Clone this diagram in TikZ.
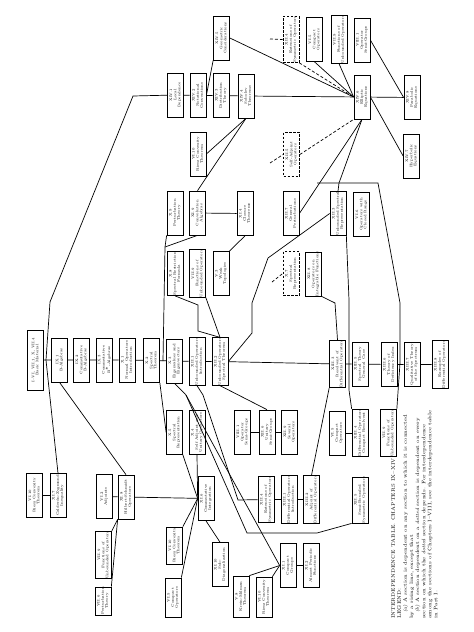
\documentclass[tikz,border=0pt]{standalone}
\usepackage{graphicx}
\usetikzlibrary{positioning}
\newcommand{\sectxt}[1]{\rotatebox{90}{\begin{tabular}{@{}c@{}}#1\end{tabular}}}

\begin{document}
\begin{tikzpicture}[
        x=1pt, y=-1pt,
        sec/.style={rectangle, draw=black, line width=0.7pt, minimum width=16pt,
                    minimum height=44pt, inner sep=0pt, font=\fontsize{3.6}{4.1}\selectfont},
        dsec/.style={sec, dash pattern=on 2.5pt off 1.5pt},
        link/.style={line width=0.7pt},
        dlink/.style={link, dash pattern=on 3pt off 2pt}
    ]
    \useasboundingbox (0,0) rectangle (474,632);

    % chapter XIV row
    \node[sec] (xiv5) at (221.5,38) {\sectxt{XIV.5\\Geometric\\Considerations}};
    \node[dsec] (xii4d) at (291,39.5) {\sectxt{XII.4\\Extensions of\\Symmetric Operators}};
    \node[sec] (vi5a) at (314.5,39.5) {\sectxt{VI.5\\Compact\\Operators}};
    \node[sec] (vii9a) at (339,39.5) {\sectxt{VII.9\\Functions of\\Unbounded Operators}};
    \node[sec] (viii1a) at (362,40) {\sectxt{VIII.1\\Operator\\Semi-Groups}};
    \node[sec] (xiv1) at (175.5,95) {\sectxt{XIV.1\\Local\\Dependence}};
    \node[sec] (xiv2) at (198,95.5) {\sectxt{XIV.2\\Notational\\Conventions}};
    \node[sec] (xiv3) at (221,95.5) {\sectxt{XIV.3\\Distribution\\Theory}};
    \node[sec] (xiv4) at (246,96) {\sectxt{XIV.4\\Sobolev\\Theorems}};
    \node[sec] (xiv6) at (362,97) {\sectxt{XIV.6\\Elliptic\\Equations}};
    \node[sec] (xiv8) at (412,97.5) {\sectxt{XIV.8\\Parabolic\\Equations}};
    \node[sec] (xiv7) at (411.5,156) {\sectxt{XIV.7\\Hyperbolic\\Equations}};
    \node[sec] (vi10a) at (198,154) {\sectxt{VI.10\\Riesz Convexity\\Theorem}};
    \node[dsec] (xiid1) at (291.5,154.5) {\sectxt{XII.5\\Self-Adjoint\\Operators}};

    % middle rows
    \node[sec] (x9) at (175,213) {\sectxt{X.9\\Perturbation\\Theory}};
    \node[sec] (xi9) at (197.5,213) {\sectxt{XI.9\\Convolution\\Algebras}};
    \node[sec] (xi4) at (245,213.5) {\sectxt{XI.4\\Closure\\Theorems}};
    \node[sec] (pert) at (291,213.5) {\sectxt{XII.7\\General\\Perturbations}};
    \node[sec] (usr) at (338,213.5) {\sectxt{XII.3\\Unbounded Spectral\\Representation}};
    \node[sec] (vi6) at (361.5,214.5) {\sectxt{VI.6\\Operators with\\Closed Range}};
    \node[sec] (x8) at (175,273.5) {\sectxt{X.8\\Spectral Restriction\\Formula}};
    \node[sec] (vii9b) at (197.5,273.5) {\sectxt{VII.9\\Functions of\\Unbounded Operators}};
    \node[sec] (v3) at (221,273.5) {\sectxt{V.3\\Weak\\Topologies}};
    \node[dsec] (x7d) at (291,273.5) {\sectxt{X.7\\Spectral\\Representation}};
    \node[sec] (oif) at (313.5,274) {\sectxt{XII.8\\Operators on\\Integrable Functions}};

    % main row
    \node[sec, minimum height=60pt] (basic) at (35.5,360) {\sectxt{I--VI, VII.1, X, VII.4\\Basic Material}};
    \node[sec] (ix1) at (59.5,360) {\sectxt{IX.1\\B-Algebras}};
    \node[sec] (ix2) at (81.5,360) {\sectxt{IX.2\\Commutative\\B-Algebras}};
    \node[sec] (ix3) at (104.5,360) {\sectxt{IX.3\\Commutative\\B$^*$-Algebras}};
    \node[sec] (x1) at (127,360) {\sectxt{X.1\\Normal Operators\\Introduction}};
    \node[sec] (x2) at (151.5,360.5) {\sectxt{X.2\\Spectral\\Theorem}};
    \node[sec] (x3) at (174.5,361) {\sectxt{X.3\\Eigenvalues and\\Eigenvectors}};
    \node[sec] (xii1) at (197,361.5) {\sectxt{XII.1\\Unbounded Operators\\Introduction}};
    \node[sec] (xii2) at (220,361.5) {\sectxt{XII.2\\Unbounded Operators\\Spectral Theorem}};
    \node[sec] (xiii3) at (337.5,364) {\sectxt{XIII.3\\Resolvent of\\Differential Operators}};
    \node[sec] (xiii5) at (360,364) {\sectxt{XIII.5\\Spectral Theory\\General Case}};
    \node[sec] (xiii6) at (389,364.5) {\sectxt{XIII.6\\Theory of\\Deficiency Index}};
    \node[sec] (xiii7) at (412,364.5) {\sectxt{XIII.7\\Qualitative Theory\\of the Spectrum}};
    \node[sec] (xiii8) at (440,364.5) {\sectxt{XIII.8\\Examples of\\Differential Operators}};

    % lower rows
    \node[sec] (x5) at (174.5,432.5) {\sectxt{X.5\\Spectral\\Representation}};
    \node[sec] (x4) at (197,432.5) {\sectxt{X.4\\Self Adjoint and\\Unitary Operators}};
    \node[sec] (viii1b) at (242.5,432) {\sectxt{VIII.1\\Operator\\Semi-Groups}};
    \node[sec] (usg) at (267,432) {\sectxt{XII.6\\Unitary\\Semi-Groups}};
    \node[sec] (xii9) at (289.5,432) {\sectxt{XII.9\\Several\\Operators}};
    \node[sec] (vi5b) at (337,433) {\sectxt{VI.5\\Compact\\Operators}};
    \node[sec] (xiii4) at (360,433) {\sectxt{XIII.4\\Differential Operators\\Compact Resolvent}};
    \node[sec] (vii9c) at (388.5,433) {\sectxt{VII.9\\Functions of\\Unbounded Operators}};
    \node[sec] (vi10b) at (34.5,495.5) {\sectxt{VI.10\\Riesz Convexity\\Theorem}};
    \node[sec] (xi7) at (58,495.5) {\sectxt{XI.7\\Calder\'on-Zygmund\\Inequality}};
    \node[sec] (vi2) at (104,496.5) {\sectxt{VI.2\\Adjoints}};
    \node[sec] (xi8) at (126,497) {\sectxt{XI.8\\Hilbert-Schmidt\\Operators}};
    \node[sec] (xi6) at (206,498.5) {\sectxt{XI.6\\Commutative\\Integration}};
    \node[sec] (ext) at (266,499.5) {\sectxt{XII.4\\Extensions of\\Symmetric Operators}};
    \node[sec] (xiii1) at (289,499.5) {\sectxt{XIII.1\\Differential Operators\\Introduction}};
    \node[sec] (xiii2) at (311.5,499.5) {\sectxt{XIII.2\\Adjoint of\\Differential Operators}};
    \node[sec] (sbs) at (360,500) {\sectxt{XII.5\\Semi-Bounded\\Symmetric Operators}};
    \node[sec] (vii9d) at (103.5,555) {\sectxt{VII.9\\Functions of\\Unbounded Operators}};
    \node[sec, minimum height=28pt] (vii6) at (103,601) {\sectxt{VII.6\\Perturbation\\Theory}};
    \node[sec, minimum height=37pt] (vi10c) at (174.5,545.5) {\sectxt{VI.10\\Riesz Convexity\\Theorem}};
    \node[sec, minimum height=39pt] (vi5c) at (173,597.5) {\sectxt{VI.5\\Compact\\Operators}};
    \node[sec] (xi10) at (220,564.5) {\sectxt{XI.10\\Sub-\\Diagonalization}};
    \node[sec, minimum height=41pt] (v8) at (241,596.5) {\sectxt{V.8\\Krein-Milman\\Theorem}};
    \node[sec, minimum height=40pt] (vi10d) at (264,597) {\sectxt{VI.10\\Riesz Convexity\\Theorem}};
    \node[sec] (xi1) at (288,565.5) {\sectxt{XI.1\\Compact\\Groups}};
    \node[sec] (xi2) at (311,565.5) {\sectxt{XI.2\\Almost Periodic\\Functions}};

    % legend
    \node[rotate=90, anchor=north west, align=left, inner sep=0pt,
          font=\fontsize{5}{6.1}\selectfont] (legend) at (391,619) {%
        INTERDEPENDENCE TABLE. CHAPTERS IX--XIV\\
        LEGEND:\\
        \hspace*{1.2em}\textit{(a)} A section is dependent on any section to which it is connected\\
        by a rising line, except that\\
        \hspace*{1.2em}\textit{(b)} A section dependent on a \textit{dotted} section is dependent on every\\
        section on which the \textit{dotted} section depends. For interdependence\\
        among the sections of Chapters I--VIII, see the interdependence table\\
        in Part I.};

    % turning points
    \coordinate (hub) at (46,360);
    \coordinate (k1) at (50,302);
    \coordinate (k2) at (133,96);
    \coordinate (j0) at (163,361);
    \coordinate (j1) at (165,247);
    \coordinate (j2) at (198,305);
    \coordinate (j3) at (198,331);
    \coordinate (j4) at (268,258);
    \coordinate (j5) at (252,303);
    \coordinate (j6) at (252,333);
    \coordinate (j7) at (335,303);
    \coordinate (j8) at (349,300);
    \coordinate (j9) at (349,390);
    \coordinate (b1) at (317,183);
    \coordinate (b2) at (378,183);
    \coordinate (b3) at (400,303);
    \coordinate (b4) at (400,363);
    \coordinate (m1) at (238,500);
    \coordinate (m2) at (247,533);
    \coordinate (m3) at (317,533);
    \coordinate (m4) at (203,395);
    \coordinate (m5) at (186,395);
    \coordinate (d1) at (270,39);
    \coordinate (d2) at (270,163);
    \coordinate (d3) at (272,282);

    % connections
    \draw[link] (basic) -- (ix1) -- (ix2) -- (ix3) -- (x1) -- (x2) -- (x3) -- (xii1) -- (xii2)
                -- (xiii3) -- (xiii5) -- (xiii6) -- (xiii7) -- (xiii8);
    \draw[link] (xi7.north) -- (hub) -- (k1) -- (k2) -- (xiv1);
    \draw[link] (xiv1) -- (xiv2) -- (xiv3) -- (xiv4) -- (xiv6) -- (xiv8);
    \draw[link] (xiv2.east) -- (xiv5.south west);
    \draw[link] (xiv5.east) -- (xiv6.west);
    \draw[link] (vi5a.south) -- (xiv6.west);
    \draw[link] (vii9a.south) -- (xiv6.west);
    \draw[dlink] (xii4d.south east) -- (xiv6.west);
    \draw[dlink] (xiid1.east) -- (xiv6.south west);
    \draw[link] (viii1a.east) -- (xiv8.west);
    \draw[link] (xiv6.east) -- (xiv7.west);
    \draw[link] (xiv6.south) -- (pert.east);
    \draw[link] (xiv6.south) -- (339,183) -- (usr.north);
    \draw[link] (b1) -- (b2) -- (b3) -- (b4);
    \draw[dlink] (d1) -- (xii4d.west);
    \draw[dlink] (d2) -- (xiid1.west);
    \draw[dlink] (d3) -- (x7d.west);
    \draw[link] (xiv4.south) -- (vi10a.east);
    \draw[link] (xiv4.south) -- (xi9.north);
    \draw[link] (xi9) -- (xi4);
    \draw[link] (v3.north east) -- (xi4.south);
    \draw[link] (j0) -- (j1) -- (x9.south west);
    \draw[link] (j1) -- (xi9.south);
    \draw[link] (x8.south) -- (j2) -- (j3) -- (xii2.north);
    \draw[link] (vii9b.south east) -- (xii2.north);
    \draw[link] (usr.west) -- (j4) -- (j5) -- (j6) -- (xii2.east);
    \draw[link] (oif.south east) -- (j7) -- (xiii3.north);
    \draw[link] (usr.south east) -- (j8) -- (j9) -- (xiii4.north west);
    \draw[link] (xii2.south) -- (usg.north);
    \draw[link] (viii1b) -- (usg) -- (xii9);
    \draw[link] (x2.south east) -- (x5.west);
    \draw[link] (x5.south east) -- (xi6.west);
    \draw[link] (x4.south) -- (xi6.west);
    \draw[link] (xi8) -- (xi6);
    \draw[link] (vi10c.north east) -- (xi6.west);
    \draw[link] (vi5c.north east) -- (xi6.west);
    \draw[link] (xi6.south) -- (xi10.north);
    \draw[link] (vi2) -- (xi8);
    \draw[link] (vii9d.north east) -- (xi8.south west);
    \draw[link] (vii6.north east) -- (xi8.south west);
    \draw[link] (ix1.south) -- (xi8.north);
    \draw[link] (vi10b) -- (xi7);
    \draw[link] (xiii3.south west) -- (xiii2.north);
    \draw[link] (vi5b) -- (xiii4);
    \draw[link] (b4) -- (vii9c.north east);
    \draw[link] (xii1.south) -- (m4) -- (m1) -- (ext);
    \draw[link] (ext) -- (xiii1) -- (xiii2);
    \draw[link] (x3.south) -- (m5) -- (m2) -- (m3) -- (sbs.south west);
    \draw[link] (m5) -- (xi1.west);
    \draw[link] (xi1) -- (xi2);
    \draw[link] (v8.north east) -- (xi1.west);
    \draw[link] (vi10d.north east) -- (xi1.west);
\end{tikzpicture}
\end{document}
